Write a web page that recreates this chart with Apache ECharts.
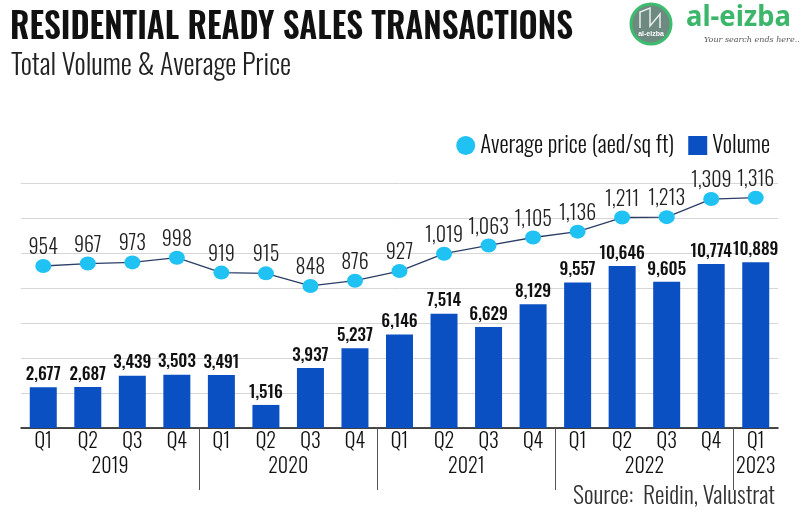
<!DOCTYPE html>
<html>
<head>
<meta charset="utf-8">
<script src="https://cdn.jsdelivr.net/npm/echarts@6/dist/echarts.min.js"></script>
<style>
  html, body { margin: 0; padding: 0; background: #fff; }
  #chart { width: 800px; height: 528px; }
</style>
</head>
<body>
<div id="chart"></div>
<script>
// data
var quarters = ['Q1','Q2','Q3','Q4','Q1','Q2','Q3','Q4','Q1','Q2','Q3','Q4','Q1','Q2','Q3','Q4','Q1'];
var years = ['2019','2020','2021','2022','2023'];
var quartersPerYear = [4, 4, 4, 4, 1];
var volume = [2677, 2687, 3439, 3503, 3491, 1516, 3937, 5237, 6146, 7514, 6629, 8129, 9557, 10646, 9605, 10774, 10889];
var avgPrice = [954, 967, 973, 998, 919, 915, 848, 876, 927, 1019, 1063, 1105, 1136, 1211, 1213, 1309, 1316];

var OSW = 'Oswald, "Roboto Condensed", sans-serif';
var BAR_COLOR = '#0a50c2';
var DOT_COLOR = '#1fc2f2';

// year centres / boundaries on the category index scale
var yearCenters = [], yearBounds = [];
var start = 0;
quartersPerYear.forEach(function(n, i) {
    yearCenters.push(start + (n - 1) / 2);
    if (i < quartersPerYear.length - 1) yearBounds.push(start + n - 0.5);
    start += n;
});

function fmt(v) {
    return String(v).replace(/\B(?=(\d{3})+(?!\d))/g, ',');
}

// squeeze a text to a given width
var measureCtx = document.createElement('canvas').getContext('2d');
function fitScale(text, font, w) {
    measureCtx.font = font;
    return w / measureCtx.measureText(text).width;
}

var titleText = 'RESIDENTIAL READY SALES TRANSACTIONS';
var titleFont = '600 36px ' + OSW;
var subText = 'Total Volume & Average Price';
var subFont = '300 28px ' + OSW;
var srcText = 'Source:  Reidin, Valustrat';
var srcFont = '300 23px ' + OSW;
var logoText = 'al-eizba';
var logoFont = 'bold 28px "Noto Sans", sans-serif';

var chart = echarts.init(document.getElementById('chart'));
var option = {
    backgroundColor: '#fff',
    animation: false,
    legend: {
        top: 129,
        right: 25,
        itemWidth: 19,
        itemHeight: 19,
        itemGap: 14,
        textStyle: { fontFamily: OSW, fontWeight: 300, fontSize: 23, color: '#111' },
        data: [
            { name: 'Average price (aed/sq ft)', icon: 'circle' },
            { name: 'Volume', icon: 'rect' }
        ]
    },
    grid: { left: 21, right: 22, top: 183, bottom: 100 },
    xAxis: [{
        type: 'category',
        data: quarters,
        axisLine: { lineStyle: { color: '#111', width: 1.5 } },
        axisTick: { show: false },
        axisLabel: { fontFamily: OSW, fontWeight: 300, fontSize: 20, color: '#111', margin: 4 }
    }, {
        type: 'value',
        position: 'bottom',
        min: -0.5,
        max: quarters.length - 0.5,
        axisLine: { show: false },
        splitLine: { show: false },
        axisTick: {
            show: true,
            customValues: yearBounds,
            length: 62,
            lineStyle: { color: '#555', width: 1 }
        },
        axisLabel: {
            customValues: yearCenters,
            fontFamily: OSW,
            fontWeight: 300,
            fontSize: 20,
            color: '#111',
            margin: 29,
            formatter: function(v) {
                var idx = yearCenters.indexOf(v);
                return idx >= 0 ? years[idx] : '';
            }
        }
    }],
    yAxis: [{
        type: 'value',
        min: 0,
        max: 16100,
        interval: 2300,
        axisLine: { show: false },
        axisTick: { show: false },
        axisLabel: { show: false },
        splitLine: { lineStyle: { color: '#d6d6d6', width: 1 } }
    }, {
        type: 'value',
        min: 95,
        max: 1394,
        show: false,
        splitLine: { show: false }
    }],
    series: [{
        name: 'Volume',
        type: 'bar',
        data: volume,
        barWidth: 27,
        itemStyle: { color: BAR_COLOR },
        label: {
            show: true,
            position: 'top',
            distance: 4,
            fontFamily: OSW,
            fontWeight: 500,
            fontSize: 17,
            color: '#111',
            formatter: function(p) { return fmt(p.value); }
        }
    }, {
        name: 'Average price (aed/sq ft)',
        type: 'line',
        yAxisIndex: 1,
        data: avgPrice,
        symbol: 'circle',
        symbolSize: [16, 14],
        lineStyle: { color: '#2c3e66', width: 1.3 },
        itemStyle: { color: DOT_COLOR },
        label: {
            show: true,
            position: 'top',
            distance: 1,
            fontFamily: OSW,
            fontWeight: 300,
            fontSize: 20,
            color: '#222',
            formatter: function(p) { return fmt(p.value); }
        },
        z: 3
    }],
    graphic: [{
        type: 'text', x: 10, y: 10,
        scaleX: fitScale(titleText, titleFont, 563),
        style: { text: titleText, font: titleFont, fill: '#111' }
    }, {
        type: 'text', x: 11, y: 52,
        scaleX: fitScale(subText, subFont, 280),
        style: { text: subText, font: subFont, fill: '#222' }
    }, {
        type: 'text', x: 775, y: 485,
        scaleX: fitScale(srcText, srcFont, 202),
        style: { text: srcText, font: srcFont, fill: '#333', align: 'right' }
    }, {
        // logo
        type: 'group',
        children: [{
            type: 'circle',
            shape: { cx: 651, cy: 24, r: 20 },
            style: { fill: '#6e8a80', stroke: '#3dbb6e', lineWidth: 3 }
        }, {
            type: 'polyline',
            shape: { points: [[640, 28], [640, 12], [650, 8], [650, 26], [660, 14], [660, 28]] },
            style: { stroke: '#e8eeea', fill: 'none', lineWidth: 1.5 }
        }, {
            type: 'text', x: 651, y: 31,
            style: { text: 'al-eizba', font: 'bold 7px sans-serif', fill: '#fff', align: 'center' }
        }, {
            type: 'text', x: 686, y: 4,
            scaleX: fitScale(logoText, logoFont, 105),
            style: { text: logoText, font: logoFont, fill: '#3cb66a' }
        }, {
            type: 'text', x: 704, y: 36,
            style: { text: 'Your search ends here....', font: 'italic 8px "DejaVu Serif", serif', fill: '#555' }
        }]
    }]
};
chart.setOption(option);
</script>
</body>
</html>
